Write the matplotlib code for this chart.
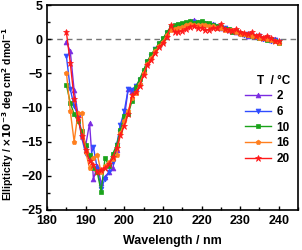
"""
CD spectra at several temperatures
"""

import numpy as np
import matplotlib
matplotlib.use("Agg")
import matplotlib.pyplot as plt
from matplotlib.ticker import MultipleLocator

plt.rcParams['font.family'] = ['Liberation Sans', 'DejaVu Sans']
plt.rcParams['font.weight'] = 'bold'

wavelength = list(range(185, 241))

# ellipticity (x10^-3 deg cm2 dmol-1), one list per temperature
ell_2 = [-0.4, -1.8, -7.5, -11.0, -13.8, -15.5, -12.3, -20.5, -18.5, -21.0,
         -20.1, -19.5, -18.9, -16.2, -13.0, -11.5, -7.3, -7.6, -7.2, -6.2,
         -4.6, -3.5, -2.5, -1.6, -0.8, -0.2, 0.8, 1.6, 1.9, 2.1,
         2.2, 2.4, 2.6, 2.8, 2.5, 2.4, 2.3, 2.2, 2.2, 1.9,
         1.7, 1.6, 1.4, 1.2, 1.0, 0.9, 0.8, 0.5, 0.6, 0.4,
         0.3, 0.1, 0.2, -0.1, 0.0, -0.3]
ell_6 = [-2.5, -7.3, -9.8, -11.2, -14.5, -16.8, -17.5, -15.8, -19.0, -21.9,
         -20.4, -19.4, -18.0, -15.5, -12.5, -10.5, -7.3, -7.4, -6.8, -6.0,
         -4.8, -3.3, -2.4, -1.5, -0.7, 0.0, 0.9, 1.7, 1.8, 2.0,
         2.1, 2.2, 2.4, 2.5, 2.3, 2.2, 2.2, 2.0, 2.0, 1.8,
         1.6, 1.7, 1.3, 1.2, 1.0, 0.8, 0.6, 0.7, 0.4, 0.3,
         0.4, 0.0, 0.1, -0.2, -0.1, -0.4]
ell_10 = [-6.7, -9.3, -11.0, -12.0, -13.5, -15.5, -17.0, -18.9, -19.5, -22.3,
          -17.4, -18.5, -16.8, -15.5, -13.3, -11.2, -11.0, -9.0, -7.0, -5.8,
          -4.5, -3.2, -2.2, -1.4, -0.6, 0.1, 1.0, 1.8, 2.0, 2.2,
          2.3, 2.5, 2.6, 2.4, 2.5, 2.6, 2.4, 2.3, 2.1, 1.9,
          1.8, 1.5, 1.5, 1.1, 1.2, 0.9, 0.7, 0.6, 0.4, 0.5,
          0.2, 0.1, -0.1, 0.0, -0.3, -0.6]
ell_16 = [-4.9, -10.5, -15.0, -10.8, -10.8, -16.5, -18.9, -17.4, -16.9, -19.5,
          -18.5, -18.0, -17.5, -17.0, -13.8, -12.0, -10.5, -8.6, -7.9, -6.5,
          -5.0, -3.6, -2.7, -1.8, -1.0, -0.4, 0.6, 1.4, 1.5, 1.7,
          1.8, 2.0, 2.2, 2.1, 2.0, 2.1, 2.0, 1.9, 1.9, 1.7,
          1.7, 1.4, 1.3, 1.3, 1.0, 0.8, 0.8, 0.6, 0.5, 0.4,
          0.2, 0.2, 0.0, -0.1, -0.2, -0.5]
ell_20 = [1.0, -3.5, -8.7, -11.5, -14.2, -16.2, -17.8, -18.4, -19.5, -19.1,
          -18.8, -18.3, -17.3, -15.9, -14.0, -12.7, -11.0, -8.2, -7.8, -6.8,
          -5.2, -3.8, -3.0, -2.0, -1.2, -0.6, 0.3, 2.0, 1.0, 1.1,
          1.2, 1.5, 1.8, 1.9, 1.6, 1.7, 1.3, 1.4, 1.7, 1.6,
          2.2, 1.5, 1.4, 1.2, 1.5, 1.0, 0.9, 0.7, 1.0, 0.5,
          0.6, 0.2, 0.5, 0.1, -0.2, -0.3]

temps = ['2', '6', '10', '16', '20']
series = [ell_2, ell_6, ell_10, ell_16, ell_20]
colors = ['#7a2be2', '#2f4cff', '#1aa31a', '#ff7f1e', '#ff1a1a']
markers = ['^', 'v', 's', 'p', '*']
msizes = [3.5, 3.5, 3.2, 3.5, 4.5]

fig = plt.figure(figsize=(3.02, 2.5), dpi=100)
ax = fig.add_axes([0.156, 0.16, 0.831, 0.82])

ax.axhline(0, color='#777777', lw=1.0, ls=(0, (4, 3)), zorder=1)

for t, y, c, m, ms in zip(temps, series, colors, markers, msizes):
    ax.plot(wavelength, y, color=c, marker=m, ms=ms, lw=1.0, label=t,
            markeredgewidth=0.5, zorder=2)

ax.set_xlim(180, 245)
ax.set_ylim(-25, 5)
ax.xaxis.set_major_locator(MultipleLocator(10))
ax.xaxis.set_minor_locator(MultipleLocator(5))
ax.yaxis.set_major_locator(MultipleLocator(5))
ax.yaxis.set_minor_locator(MultipleLocator(2.5))
ax.tick_params(which='both', direction='in', labelsize=9, width=1.0)
ax.tick_params(which='major', length=3)
ax.tick_params(which='minor', length=2)
for lab in ax.get_xticklabels() + ax.get_yticklabels():
    lab.set_fontweight('bold')
for s in ax.spines.values():
    s.set_linewidth(1.2)

ax.set_xlabel('Wavelength / nm', fontsize=9, fontweight='bold', labelpad=6)
ax.set_ylabel(r'Ellipticity / $\mathbf{\times10^{-3}}$ deg cm$\mathbf{^{2}}$ dmol$\mathbf{^{-1}}$',
              fontsize=7.5, fontweight='bold', labelpad=3)
ax.yaxis.set_label_coords(-0.125, 0.47)

leg = ax.legend(title='T  / \u00b0C', loc='center right', bbox_to_anchor=(1.0, 0.44),
                frameon=False, fontsize=8.5, title_fontsize=8.5,
                handlelength=2.2, labelspacing=0.3, borderaxespad=0.3,
                handletextpad=0.5)
leg.get_title().set_fontweight('bold')
for txt in leg.get_texts():
    txt.set_fontweight('bold')
leg._legend_box.align = 'right'

plt.savefig('out.png', dpi=100)
